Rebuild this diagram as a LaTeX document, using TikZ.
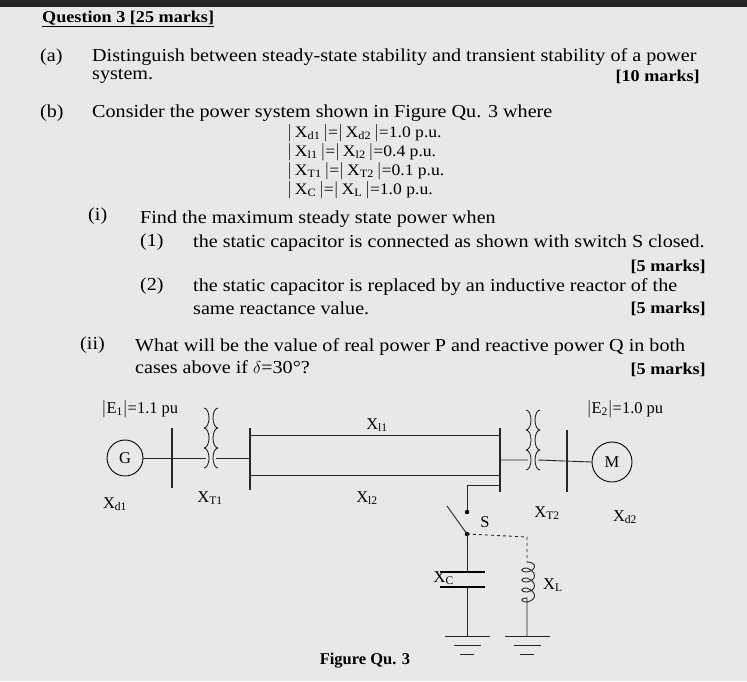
\documentclass[tikz,border=0pt]{standalone}
\usepackage{fontspec}
\setmainfont[FakeStretch=1.1]{Liberation Serif}
\newfontfamily\plainserif{Liberation Serif}
\begin{document}
\begin{tikzpicture}[x=1pt,y=-1pt,
  txt/.style={anchor=west,inner sep=0,font=\fontsize{18.3}{20}\selectfont},
  eq/.style={anchor=west,inner sep=0,font=\fontsize{16}{18}\selectfont},
  rtxt/.style={anchor=east,inner sep=0,font=\bfseries\fontsize{16.5}{18}\selectfont},
  lbl/.style={inner sep=0,font=\plainserif\fontsize{16.5}{18}\selectfont},
  wire/.style={line width=0.9pt,draw=black!85},
  bus/.style={line width=1.4pt,draw=black!85}]
\fill[gray!18] (0,0) rectangle (747,681);
\fill[black!85] (0,0) rectangle (747,7);
\useasboundingbox (0,0) rectangle (747,681);
\node[txt,font=\bfseries\fontsize{16.5}{18}\selectfont] (q) at (42,19) {\underline{Question 3 [25 marks]}};
\node[txt] (a) at (40,57) {(a)};
\node[txt] (at1) at (92,57) {Distinguish between steady-state stability and transient stability of a power};
\node[txt] (at2) at (92,76) {system.};
\node[rtxt] (am) at (700,77) {[10 marks]};
\node[txt] (b) at (40,113) {(b)};
\node[txt] (bt) at (92,113) {Consider the power system shown in Figure Qu. 3 where};
\node[eq] (e1) at (287,133) {$|\,$X\textsubscript{d1}$\,|$=$|\,$X\textsubscript{d2}$\,|$=1.0 p.u.};
\node[eq] (e2) at (287,152) {$|\,$X\textsubscript{l1}$\,|$=$|\,$X\textsubscript{l2}$\,|$=0.4 p.u.};
\node[eq] (e3) at (287,171) {$|\,$X\textsubscript{T1}$\,|$=$|\,$X\textsubscript{T2}$\,|$=0.1 p.u.};
\node[eq] (e4) at (287,190) {$|\,$X\textsubscript{C}$\,|$=$|\,$X\textsubscript{L}$\,|$=1.0 p.u.};
\node[txt] (i) at (88,216) {(i)};
\node[txt] (it) at (140,219) {Find the maximum steady state power when};
\node[txt] (n1) at (140,242) {(1)};
\node[txt] (n1t) at (193,243) {the static capacitor is connected as shown with switch S closed.};
\node[rtxt] (m1) at (706,267) {[5 marks]};
\node[txt] (n2) at (140,286) {(2)};
\node[txt] (n2t) at (193,287) {the static capacitor is replaced by an inductive reactor of the};
\node[txt] (n2u) at (193,308) {same reactance value.};
\node[rtxt] (m2) at (706,309) {[5 marks]};
\node[txt] (ii) at (80,345) {(ii)};
\node[txt] (iit) at (135,347) {What will be the value of real power P and reactive power Q in both};
\node[txt] (iiu) at (135,367) {cases above if $\delta$=30°?};
\node[rtxt] (m3) at (706,370) {[5 marks]};
% circuit
\node[draw,circle,minimum size=36pt,inner sep=0,line width=0.9pt,lbl] (G) at (125,458) {G};
\node[draw,circle,minimum size=40pt,inner sep=0,line width=0.9pt,lbl] (M) at (612,462) {M};
\coordinate (b1t) at (172,428); \coordinate (b1b) at (172,488);
\coordinate (b2t) at (250,428); \coordinate (b2b) at (250,490);
\coordinate (b3t) at (500,428); \coordinate (b3b) at (500,492);
\coordinate (b4t) at (567,430); \coordinate (b4b) at (567,492);
\draw[bus] (b1t)--(b1b) (b2t)--(b2b) (b3t)--(b3b) (b4t)--(b4b);
\draw[wire] (G.east)--(206,458);
\draw[wire] (216,458)--(250,458);
\draw[wire] (250,435)--(500,435) (250,475)--(500,475);
\draw[wire] (500,460)--(528,460) (538,460)--(M.west);
% transformer T1
\foreach \k in {0,1,2}{
 \draw[wire] (204,428+20*\k) arc[start angle=90,end angle=-90,x radius=5,y radius=10];
 \draw[wire] (218,428+20*\k) arc[start angle=90,end angle=270,x radius=5,y radius=10];
}
% transformer T2
\foreach \k in {0,1,2}{
 \draw[wire] (526,430+20*\k) arc[start angle=90,end angle=-90,x radius=5,y radius=10];
 \draw[wire] (540,430+20*\k) arc[start angle=90,end angle=270,x radius=5,y radius=10];
}
% switch branch
\coordinate (s1) at (467,512);
\coordinate (s2) at (467,534);
\draw[wire] (500,485)--(467,485)--(s1);
\fill (s1) circle (2.2); \fill (s2) circle (2.2);
\draw[wire] (447,506)--(s2);
\node[lbl] (S) at (485,522) {S};
\draw[wire] (s2)--(467,572) (467,587)--(467,636);
\draw[line width=1.2pt] (440,572)--(485,572) (440,587)--(485,587);
\draw[wire] (445,636)--(490,636) (454,645)--(481,645) (460,654)--(474,654);
\draw[wire,dashed] (s2)--(527,537)--(527,562);
\draw[wire] (527,562) \foreach \k in {0,1,2,3}{ .. controls (537,562+10*\k) and (537,570+10*\k) .. (527,572+10*\k) .. controls (520,572+10*\k) and (520,568+10*\k) .. (527,568+10*\k) } -- (527,636);
\draw[wire] (505,636)--(550,636) (514,645)--(541,645) (520,654)--(534,654);
% labels
\node[lbl] (E1) at (140,409) {$|$E\textsubscript{1}$|$=1.1 pu};
\node[lbl] (E2) at (625,409) {$|$E\textsubscript{2}$|$=1.0 pu};
\node[lbl] (Xl1) at (377,425) {X\textsubscript{l1}};
\node[lbl] (Xl2) at (367,498) {X\textsubscript{l2}};
\node[lbl] (Xd1) at (115,504) {X\textsubscript{d1}};
\node[lbl] (XT1) at (210,498) {X\textsubscript{T1}};
\node[lbl] (XT2) at (547,513) {X\textsubscript{T2}};
\node[lbl] (Xd2) at (625,517) {X\textsubscript{d2}};
\node[lbl,anchor=east] (XC) at (454,578) {X\textsubscript{C}};
\node[lbl,anchor=west] (XL) at (543,585) {X\textsubscript{L}};
\node[lbl,font=\plainserif\bfseries\fontsize{16.5}{18}\selectfont] (fig) at (365,661) {Figure Qu. 3};
\end{tikzpicture}
\end{document}
